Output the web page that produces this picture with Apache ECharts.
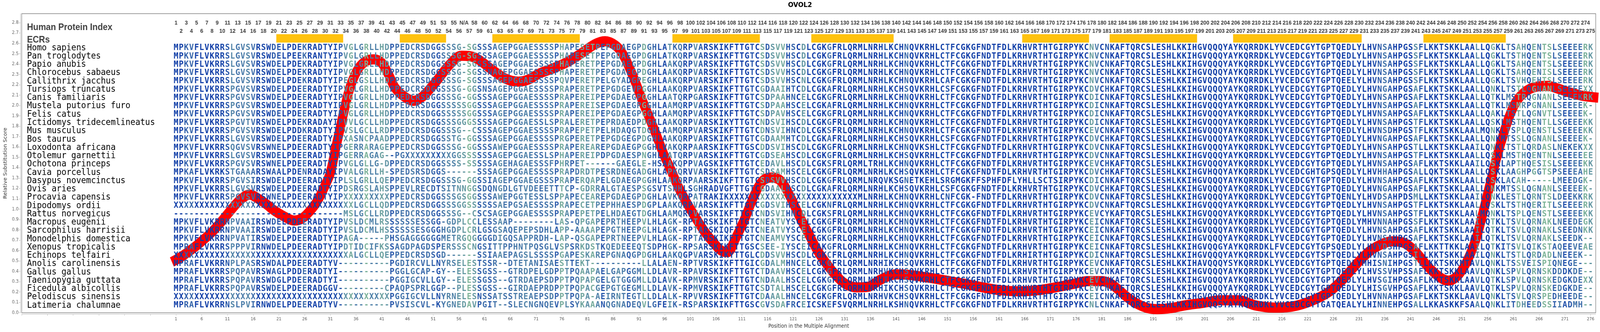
<!DOCTYPE html>
<html><head><meta charset="utf-8">
<script src="https://cdn.jsdelivr.net/npm/echarts@6/dist/echarts.min.js"></script>
<style>html,body{margin:0;padding:0;background:#fff;overflow:hidden}#c{width:4501px;height:850px;transform-origin:0 0}</style>
</head><body><div id="c"></div>
<script>
// ---------------- DATA ----------------
const chartTitle = 'OVOL2';
const species = ['Homo sapiens','Pan troglodytes','Papio anubis','Chlorocebus sabaeus','Callithrix jacchus','Tursiops truncatus','Canis familiaris','Mustela putorius furo','Felis catus','Ictidomys tridecemlineatus','Mus musculus','Bos taurus','Loxodonta africana','Otolemur garnettii','Ochotona princeps','Cavia porcellus','Dasypus novemcinctus','Ovis aries','Procavia capensis','Dipodomys ordii','Rattus norvegicus','Macropus eugenii','Sarcophilus harrisii','Monodelphis domestica','Xenopus tropicalis','Echinops telfairi','Anolis carolinensis','Gallus gallus','Taeniopygia guttata','Ficedula albicollis','Pelodiscus sinensis','Latimeria chalumnae'];

// alignment, four blocks of 69 columns (1-69, 70-138, 139-207, 208-276)
const alignmentBlocks = [
 ['MPKVFLVKRRSLGVSVRSWDELPDEKRADTYIPVGLGRLLHDPPEDCRSDGGSSSG-SGSSSAGEPGGA','ESSSSPHAPESETPEPGDAEGPDGHLATKQRPVARSKIKFTTGTCSDSVVHSCDLCGKGFRLQRMLNRH','LKCHNQVKRHLCTFCGKGFNDTFDLKRHVRTHTGIRPYKCNVCNKAFTQRCSLESHLKKIHGVQQQYAY','KQRRDKLYVCEDCGYTGPTQEDLYLHVNSAHPGSSFLKKTSKKLAALLQGKLTSAHQENTSLSEEEERK'],
 ['MPKVFLVKRRSLGVSVRSWDELPEEKRANTYIPVGLGRLLHDPPEDCRSDGGSSSG-SGSSSAGEPGGA','ESSSSPHAPESETPEPGDAEGPDGHLATKQRPVARSKIKFTTGTCSDSVVHSCDLCGKGFRLQRMLNRH','LKCHNQVKRHLCTFCGKGFNDTFDLKRHVRTHTGIRPYKCNVCNKAFTQRCSLESHLKKIHGVQQQYAY','KQRRDKLYVCEDCGYTGPTQEDLYLHVNSAHPGSSFLKKTSKKLAALLQGKLTSTHQENTSLSEEEERK'],
 ['MPKVFLVKRRSLGVSVRSWDELPDEKRADTYIPVGLGRLLHDPPEDCRSDGGSSSG-SGSSSAGEPGGA','ESSSSPHAPERETPEPGDAEGPDGHLAAKQRPVARSKIKFTTGTCSDSVVHSCDLCGKGFRLQRMLNRH','LKCHNQVKRHLCTFCGKGFNDTFDLKRHVRTHTGIRPYKCNVCNKAFTQRCSLESHLKKIHGVQQQYAY','KQRRDKLYVCEDCGYTGPTQEDLYLHVNSAHPGSSFLKKTSKKLAALLQGKLTSAHQENTSLSEEEERK'],
 ['MPKVFLVKRRSLGVSVRSWDELPDEKRADTYIPVGLGRLLHDPPEDCRSDGGSSSG-SGSSNAGEPGGA','ESSSSPHAPERETPEPGDAEGPDGHLAAKQRPVARSKIKFTTGTCSDSVVHSCDLCGKGFRLQRMLNRH','LKCHNQVKRHLCTFCGKGFNDTFDLKRHVRTHTGIRPYKCNVCNKAFTQRCSLESHLKKIHGVQQQYAY','KQRRDKLYVCEDCGYTGPTQEDLYLHVNSAHPGSSFLKKTSKKLAALLQGKLTSAHQENISLSEEEERK'],
 ['MPKVFLVKRRSLGVSVRSWDELPDEKRADTYIPEGLGSLLHDPPEDCRSDGGSSSG-SGSSSAGEPGGA','ESSSSPQVPERETPELGYADGPEGHLAAKQRPVARSKIKFTTGTCSDSVVHSCNLCGKGFRLQRMLNRH','LKCHNQVKRHLCAFCGKGFNDTFDLKRHVRTHTGIRPYKCNVCNKAFTQRCSLESHLKKIHGVQQQYAY','KQRRDKLYVCEDCGYTGPTQEELYLHVNSAHPGSSFLKKTSKKLAALLQGKLTSVHQEHTSLSEEEERK'],
 ['MPKVFLVKRRSPGVSVRSWDELPDEERADTYIPVGLGRLLHDPPEDCRSDGGSSSG-GGSNSAGEPGGA','ESSSSPRAPERETPEPGDGEVPGGHLAAKQRPVARSKIKFTTGTCGDAAIHTCDLCGKAFRLQRMLNRH','LKCHSQVKRHLCSFCGKGFNDTFDLKRHVRTHTGIRPYKCDVCHKAFTQRCSLESHLKKIHGVQQQYAY','KQRRDKLYVCEDCGYTGPTQEDLYLHVNGAHPGSAFLKKTSKKLAALLQNKLTSTLQGNANLSEEEEXX'],
 ['MPKVFLVKRRSPGVSVRSWDELPDEERADTYIPVGLGRLLHDPPEDCRSDGGSSSG-GGSSSAGEPGGA','ESSSSPRAPEREIPEPGDAEGPGGHLAATQRPGARSKIKFTTGTCSDPAAHNCELCGKGFRLQRMLNRH','LKCHNQVKRHLCTFCGKGFNDTFDLKRHVRTHTGIRPYKCDICNKAFTQRCSLESHLKKIHGVQQQYAY','KQRRDKLYVCEDCGYTGPTQEDLYLHVNSAHPGSAFLKKTSKKLAALLQTKLMSTRQGNANLSEEEKRK'],
 ['MPKVFLVKRRSPGVSVRSWDELPDEERADTYIPVGLGRLLHDPPEDCRSDGGSSSSSGGSSSAGEPGGA','ESSSSPRAPEREISEPGDAEGPGGHLAAMQRPVARSKIKFTTGTCSDPAAHSCELCGKAFRLQRMLNRH','LKCHNQVKRHLCTFCGKGFNDTFDLKRHVRTHTGIRPYKCDICNKAFTQRCSLESHLKKIHGVQQQYAY','KQRRDKLYVCEDCGYTGPTQEDLYLHVNSAHPGSAFLKKTSKKLAALLQTKLMSMRPGNANLSEEEEK-'],
 ['MPKVFLVKRRSPGVSVRSWDELPDEERADTYIPVGLGRLLHDPPEDCRSDGGSSSSSGGSSSAGEPGGA','ESSSSPRAPEREIPEPGDAEGPGGHLAAMQRPVARSKIKFTTGTCSDPAVHSCELCGKGFRLQRMLNRH','LKCHNQVKRHLCTFCGKGFNDTFDLKRHVRTHTGIRPYKCDICNKAFTQRCSLESHLKKIHGVQQQYAY','KQRRDKLYVCEDCGYTGPTQEDLYLHVNSAHPGSAFLKKTSKKLAALLQAKLTSTLQGNVTLSEEEEK-'],
 ['MPKVFLVKRRSPGVTVRSWDELPDEKRADAYIPVVLGCLLHDPPEDCRSDGGSSSGGGSSSSAGEPGGA','ESSLSPRALERETPEPRDAEDPDGHLAAKQRPVARSKIKYTTGTCNDSVIHSCDLCGKGFRLQRMLNRH','LKCHNQVKRHLCTFCGKGFNDTFDLKRHVRTHTGIRPYKCDICNKAFTQRCSLESHLKKIHGVQQQYAY','KQRRDKLYVCEDCGYTGPTQEDLYLHVNSAHPGSTFLKKTSKKLAALLQSKLMSTHQENTLLSGEEEKK'],
 ['MPKVFLVKRRSPGVSVRSWDELPDDKRADTYIPVSLGCLLRDPPEDCRSDGGSSSG--CSSSAGEPGGA','ESSSSPRAPEPETPELHDAQGTDGHLAAMQRPVARSKIKFTTGTCDNSVIHNCDLCGKSFRLQRMLNRH','LKCHNQVKRHLCTFCGKGFNDTFDLKRHVRTHTGIRPYKCEVCNKAFTQRCSLESHLKKIHGVQQQYAY','KQRRDKLYVCEDCGYTGPTQEDLYLHVNSDHPGSTFLKKTSKKLAALMQNKLTSPLQENSTLSEEEEKK'],
 ['MPKVFLVKRRSLGVSVRSWDELPDEERADTYIPXASNCPAADPPEDCRSDGGSSTG-GGSSSAGEPGGA','ESSSSPRGPERETPEPGDGEGPDGHLAAKQRPVARSKIKFTTGTCGDAAMHTCDLCGKAFRLQRMLNRH','LKCHSQVKRHLCSFCGKGFNDTFDLKRHVRTHTGIRPYKCDVCHKAFTQRCSLESHLKKIHGVQQQYAY','KQRRDKLYVCEDCGYTGPTQEDLYLHVNGAHPGSAFLKKTSKKLAALLQNKMTSSLQGNANLSEEEEK-'],
 ['MPKVFLVKRRSQGVSVRSWNELPDEERADTYIPGERRARAGEPPEDCRSDGGSSSG-GGSSSAWEPGGA','ESSSSPRAPEREAREPGDAEGPGGHLVAKQRPAARSKIKFTTGSCDDSVIHSCDLCGKGFRLQRMLNRH','LKCHNQVKSHLCTFCGKGFNDTFDLKRHVRTHTGIRPYKCDVCNKAFTQRCSLESHLKKIHGVQQQYAY','KQRRDKLYVCEDCGYTGPTQEDLYLHVNSAHPGSTLLKKTSKKLAAILQNKLTSTLQRDASLNEKEKXX'],
 ['MPKVFLVKRRSLGVSVRSWDELPDEERADTYIPGERRAGAG--PGXXXXXXXXXGGSSSSSSAGEPGGA','ESSLSPHAPEREIPDPGDAESPNGHLAATQRPVARSKIKFTTGTCGDSEAHSCDLCGKGFRLQRMLNRH','LKCHSQVKRHLCTFCGKGFNDTFDLKRHVRTHTGIRPYKCDVCNKAFTQRCSLESHLKKIHGVQQQYAY','KQRRDKLYVCEDCGYTGPTQEDLYLHVNSAHPGSTFLKKTSKKLAALLQSKLMSTHQENTNLSEEEEEE'],
 ['MPKVFLVKRRSPGVSVRSWNELPDEERADTYIPVGLGLLG-DPPEDCRSDGGSSSS-SSSSSAGEHAGA','ESSSFPHRPET------GAEGLE-HSAAKQPPVAGSKIKFTTGTCEDAVLHSCDLCGKSFRLQRMLTRH','LKCHNQVKRHLCTFCGKGFNDTFDLKRHVRTHTGIRPYKCEVCHKAFTQRCSLESHLKKIHGVQQQYAY','KQRRDKLYVCEDCGYTGPTQEDLYLHVNSAHPGSAFLKKTSKKLAAILQSKLAPTHQESISLSEEEEKK'],
 ['MPKAFLVKRKSTGAAARSWAALPDENRADAYIPVALGRLLH-SPEDSRSDGGS------SSSAGEPGGA','ESSSSPRAPDRDTPESRDNEGADGHLAPKQRVVARSKIKFTTGTCSDSAMHSCELCGKGFRLQRMLNRH','LKCHSQVKRHLCTFCGKGFNDTFDLKRHVRTHTGIRPYKCDVCHKAFTQRCSLESHLKKIHGVHQQYAY','KQRRDKLYVCEDCGHTGPSQEDLYLHVHHAHPGSALLQKTSKKLAALLQSKLAAGHPGGTSPSEEEAHE'],
 ['MPKVFLVKRRSPGVSIRSWDELPDEERADTYIPLSLGRLLQEPPEDCRSDGGSSSG-GGSSIAGEPGGA','EGSSSPRAPERQAPELGDAEGPGGHLAAKQRPAARSKIKFTTGTCSDSVVHSCDLCGKGFRLQRMLNRQ','VKSGNETKEHLSRGMGKFFSPHFDFLYHLLSCTSIRPYKCDICNKAFTQRCSLESHLKKIHGVQQQYAY','KQRRDKLYVCEDCGYTGPTQEDLYLHVNSAHPGSAFLKKTSKKLAALLQSKLACAH-----LMEEDGK-'],
 ['MPKVFLVKRRSLGVSVRSWDELPDEERADTYIPDSRGSLAHSPPEVLRECDTSITNNGGSDQNGDLGTV','DEEETTTCP-GDRRALGTAESPSGSVTSHHLSGHRADVGFTTGTCGDAALHSCDLCGKAFRLQRMLNRH','LKCHSQVKRHLCSFCGKGFNDTFDLKRHVRTHTGIRPYKCDVCHKAFTQRCSLESHLKKIHGVQQQYAY','KQRRDKLYVCEDCGYTGPTQEDLYLHVNGAHPGSAFLKKTSKKLAALLQNKMTSSLQGNANLSEEEEK-'],
 ['MPKVFLVKRRSPGVSVRSWNELPDEERADTYIPXXXXXXXXXPPEDCRSDGGSSSGSGGSSSAWEPGGT','ESSLSPPAPECEAREPGDAEGPDGHLAVKQRPATRAKIK'+'X'.repeat(25)+'MLNRH','LKCHNQVKRHLCNFCGK-FNDTFDLKRHVRTHTGIRPYKCDVCNKAFTQRCSLESHLKKIHGVQQQYAY','KQRRDKLYVCEDCGYTGPTQENLYLHVDSAHPDSMLLKKTSKKLAAILQNKLESTLQRNTSLDEEKKRK'],
 ['X'.repeat(35)+'LGCLLQDPPEDCRSDGGSSSGGSSSSSSAEPGSA','ESSSSPRAPECETPEPHHAESPDGPLAAKQRPVARSKIKFTTGTCGDSVIHSCELCGKNFRLQRMLNRH','LKCHNQVKRHLCTFCGKGFNDTFDLKRHVRTHTGIRPYKCDVCNKAFTQRCSLESHLKKIHGVQQQYAY','KQRRDKLYVCEDCGYTGPTQEDLYLHVNSAHPGSTFLKKTSKKLAALLQSKLTSTHQERITLSEEEERK'],
 ['-'.repeat(33)+'MSLGCLLRDPPEDCRSDGGSSSG--CSCSAGEPGGA','ESSSSPRAPEPETPELHDAEGTDGHLAAMQRPVARSKIKFTTGTCNDSVIHNCDLCGKSFRLQRMLNRH','LKCHNQVKRHLCTFCGKGFNDTFDLKRHVRTHTGIRPYKCEVCYKAFTQRCSLESHLKKIHGVQQQYAY','KQRRDKLYVCEDCGYTGPTQEDLYLHVNSAHPGSTFLKKTSKKLAALMQNKLTSPLQENSTLSEEEEKK'],
 ['MPKVFLVKRRNPVAAIRSWDELPDEERADTYIPVSLDCMLRSSSSSSESSGG-GDPLCCLESSAAP---','-----LAS-QPGAPEPRTHEEPVLHLAGK-RPTARSKIKFTTGTCNEATVYSCELCGKGFRLQRMLNRH','LKCHNQVKRHLCTFCGKGFNDTFDLKRHVRTHTGIRPYKCEICNKAFTQRCSLESHLKKIHGVQQQYAY','KQRRDKLYVCEDCGYTGPTQEDLYMHVNNAHPGSSFLKKTSKKLAAILQTKLTSVLQRNAKLNEEDEGK'],
 ['MPKVFLVKRRNPVAAIRSWDELPDEERADTYIPVSLDCMLHSSSSSSESGGGHGDPLCRLGSGSAQEPE','PSDHLAPP-AAAAPEPGTHEEPGLHLAGK-RPTARSKIQFTTGTCNEATVYSCELCGKGFRLQRMLNRH','LKCHNQVKRHLCTFCGKGFNDTFDLKRHVRTHTGIRPYKCEICNKAFTQRCSLESHLKKIHGVQQQYAY','KQRRDKLYVCEDCGYTGPTQEDLYLHVNSAHPGSAFLKKTSKKLAAILQTKLTSVLQRNAKLSEEDNKK'],
 ['MPKVFLVKRRNPVATIRSWDELPDEERADTYIPAGA-----PHSGAGGGGGGMETRGQGGGGDIGQSAP','PRDH-LAP-QSGAPEPRTNEEPVLHLAGK-RPTARSKIKFTTGTCNEAMVYSCELCGKGFRLQRMLNRH','LKCHNQVKRHLCTFCGKGFNDTFDLKRHVRTHTGIRPYKCEICNKAFTQRCSLESHLKKIHGVQQQYAY','KQRRDKLYVCEDCGYTGPTQEDLYLHVNSAHPGSAFLKKTSKKLAAILQTKLTSVLQRNAKLSEEDK--'],
 ['MPRAFLVKRRSPPPVIRNWDELPDEERADTYIPDTIDCIFKSSAGDPAGDSPERSSSCNGSITTPPHNT','PQSGLVSPSRKDSTKQEDEEEQTSDPHGK-RPSARSKIKFTTGSCSEE-IYSCEICAKGFRLQRMLNRH','LKCHNQVKRHLCTFCGKGFNDTFDLKRHVRTHTGIRPYKCEICNKAFTQRCSLESHLKKIHGVQQGYAY','KQRRDKLFVCEDCGYTGPSQEDLYLHVYDSHPGSAFLKKTTKKLAAILQTKITSVLQIKSTAQEEVEAE'],
 ['X'.repeat(34)+'ALGCLLQEPPEDCRSDSGD------SSIAAEPAGS','LSSSSPGAPESKAREPGNAQGPDGHLAAKQGPVARSKIKYTTGLCDDSVVHSCDLCGKCFRLQRMLNRH','LKCHNQVKRHLCTFCGKGFNDTFDLKRHIRTHTGIRPYKCDICNKAFTQRCSLESHLKKIHGVQQQYAY','KQRRDKLYVCEDCGYTSPTQEDLYLHVNSAHPGSILLKKTSKKLAAILQNKLTSTLQRDADLNEEEK--'],
 ['MPRAFLVKRRNPLPASRSWDALPDEERADTYV'+'----------'+'PGDIRCVLLNYRSELESTSSR--DTET','ANISAESTTEKT----------LLALAEN-RPTVRSKIKFTTGICGDALMHNCELCGKGFRLQRMLNRH','IKCHSQVKRHLCTFCGKGFNDTFDLKRHVRTHTGIRPYKCEVCNKAFTQRCSLESHLKKIHAVQQQYSY','KQRRDKLYVCEDCGYTGPTQEDLYMHISNIHPGSTLLKKTSKKMTAVLQNKLTSSVEISPIQNEGE---'],
 ['MPRAFLVKRRSPQPAVRSWAGLPDDERADTYI'+'----------'+'PGGLGCAP-GY--ELESSGSS--GTRD','PELGDPPTPQAAPAELGAPGGMLLDLAVR-RPAVRSKIKFTTGTCTDAAVHSCELCGKGFRLQRMLNRH','VKCHSQVKRHLCTFCGKGFNDTFDLKRHVRTHTGIRPYKCEVCNKAFTQRCSLESHLKKIHGVQQQYAY','KQRRDKLYVCEDCGYTGPTQEDLYLHVSSVHPSSAFLKKTSKKLAAVLQNKLSPVLQRNSKDDDKDE--'],
 ['MPRAFLVKRRSPQPAVRSWDGLPDEERADTYI'+'----------'+'PGGIGCVLLGY--ELESSGSS--GTRD','AEPSDPPTPQPAPGELGTGGGMLLDLAVK-RPMVRSKIKFTTGTCNDAALHSCELCGKGFRLQRMLNRH','IKCHSQVKRHLCTFCGKGFNDTFDLKRHVRTHTGIRPYKCEVCNKAFTQRCSLESHLKKIHGVQQQYAY','KQRRDKLYVCEDCGYTGPTQEDLYLHVSGIHPGSAFLKKTSKKLAAVLQTKLSPVLQRNSKEDGKDEXX'],
 ['MPRAFLVKRRSPQPAVRSWDELPDEERADGGV'+'---------'+'CPAQPSPRLGGP--PLESSGSS--GIRD','AEPRDPPTPQPACGEPGTGEGMLLDLAVK-RPMVRSKIKFTTGTCSDTALHSCELCGKGFRLQRMLNRH','IKCHSQVKRHLCTFCGKGFNDTFDLKRHVRTHTGIRPYKCEVCNKAFTQRCSLESHLKKIHGVQQQYAY','KQRRDKLYVCEDCGYTGPTQEDLYLHISGVHPGSAFLKKTSKKLAAVLQTKLSPVLQRNSKEDGKDE--'],
 ['X'.repeat(42)+'PGGIGCVLLNYRNELESNSSATSSTRE','AEPSDPPTPQPA-AEIRNTEGTLLDLALK-RPVVRSKIKFTTGTCDAAALHNCELCGKGFRLQRMLNRH','VKCHSQVKRHLCTFCGKGFNDTFDLKRHIRTHTGIRPYKCEICNKAFTQRCSLESHLKKIHGVQQQYAY','KQRRDKLYVCEDCGYTGPTQEDLYLHVNNAHPGSAFLKKTSKKLAAVLQNKLTSVLQRSPEDHEEDE--'],
 ['MPRAFLVKRRNSLPVIRNWDELPDEERADTYV'+'----------'+'PVSISCVL-KYGNEDAVPGIT--SLEC','NGNQEVPLSYKAAANQGNADEQVLGFEIK-RSPARSKIKFTTGSCGVSDAFRCEICSKEFSVQRMLNRH','LKSHNQVKRHLCTFCGKGFNDTFDLKRHVRTHTGIRPYKCNLCNKAFTQRCSLESHLKKIHGVQQSYAY','KQRRDKLYVCEDCGYTGATQEALYLHINNEHPGSALLKKASKKFSAALQNKLITDHEEDSSIIADMH--']
];

// evolutionarily conserved regions (alignment positions, inclusive)
const ecrRegions = [[21,33],[45,53],[63,79],[98,114],[125,140],[166,178],[183,199],[207,231],[244,259]];

// relative substitution score curve (alignment position, score)
const curvePos = [0.2,2,4,6,8,10,12,13.5,15.3,17,18.5,20,22,24,25.5,27,28.5,30,31,32,33,34,35,36.5,38,39.5,41,42.3,43.6,45.4,47.2,48.9,50.7,52.5,54.3,56.5,59.2,62.3,65,67.5,69.5,71.7,74.4,77.1,79.7,82.4,84.4,86.4,87.8,89.1,90.5,91.8,93.2,94.5,95.8,97.2,98.5,100.3,102.1,103.8,105.6,107,108.2,109.7,111.5,113.3,115,116.8,118.6,120.4,122.2,123.9,125.7,127.5,129.3,131.1,133.3,135.5,138,140.9,143.5,147.1,150.7,154.2,157.8,161.3,164.9,168.5,172,175.6,178.3,180.9,182.7,184.5,186.3,188.1,189.9,191.7,194.4,197,200.6,204.2,207.5,210.9,214.4,218,221.5,225.1,227.8,230.5,233.2,235.8,237.6,239.9,242.1,244.3,246.5,248.3,250.1,251.9,253.7,255,256.4,257.7,259.1,260.4,261.7,263.5,265.3,267.6,269.8,272,274.3,277.5];
const curveScore = [0.49,0.54,0.61,0.69,0.78,0.89,1.01,1.09,1.14,1.10,1.05,0.99,0.93,0.89,0.91,0.98,1.08,1.23,1.35,1.58,1.80,2.02,2.20,2.36,2.43,2.445,2.41,2.30,2.17,2.085,2.045,2.085,2.18,2.29,2.40,2.48,2.46,2.35,2.26,2.23,2.25,2.31,2.36,2.42,2.50,2.59,2.62,2.58,2.50,2.37,2.20,2.03,1.86,1.70,1.53,1.38,1.23,1.06,0.91,0.78,0.67,0.60,0.585,0.71,0.90,1.12,1.27,1.305,1.27,1.12,0.93,0.77,0.60,0.47,0.36,0.28,0.245,0.25,0.32,0.37,0.365,0.34,0.31,0.28,0.245,0.217,0.207,0.217,0.245,0.28,0.305,0.305,0.28,0.21,0.135,0.08,0.045,0.035,0.045,0.07,0.095,0.12,0.12,0.07,0.05,0.06,0.11,0.20,0.32,0.47,0.60,0.67,0.69,0.67,0.58,0.45,0.35,0.31,0.355,0.49,0.71,0.95,1.23,1.49,1.73,1.92,2.05,2.14,2.18,2.19,2.16,2.125,2.095,2.075];

const trackLabels = ['Human Protein Index', 'ECRs'];

// ---------------- DERIVED ----------------
const sequences = alignmentBlocks.map(b => b.map(s => s.padEnd(69, '-').slice(0, 69)).join(''));
const nCols = sequences[0].length;
const humanIndex = [];
{ let k = 0; for (let c = 0; c < nCols; c++) { if (sequences[0][c] === '-') humanIndex.push('N/A'); else { k++; humanIndex.push(String(k)); } } }

const colorStops = [[0.15,[150,202,146]],[0.28,[132,186,150]],[0.42,[108,162,158]],[0.56,[84,136,166]],[0.7,[56,104,170]],[0.85,[30,78,170]],[1.0,[10,56,166]]];
function consColor(v) {
  if (v <= colorStops[0][0]) return 'rgb(' + colorStops[0][1].join(',') + ')';
  for (let i = 1; i < colorStops.length; i++) {
    if (v <= colorStops[i][0]) {
      const a = colorStops[i-1], b = colorStops[i];
      const t = (v - a[0]) / (b[0] - a[0]);
      const c = a[1].map((x, j) => Math.round(x + (b[1][j] - x) * t));
      return 'rgb(' + c.join(',') + ')';
    }
  }
  return 'rgb(' + colorStops[colorStops.length-1][1].join(',') + ')';
}
const colColors = [];
for (let c = 0; c < nCols; c++) {
  const cnt = {}; let n = 0;
  sequences.forEach(s => { const ch = s[c]; if (ch !== 'X') { cnt[ch] = (cnt[ch] || 0) + 1; n++; } });
  let m = 0; Object.keys(cnt).forEach(k => { if (cnt[k] > m) m = cnt[k]; });
  colColors.push(consColor(n ? m / n : 1));
}

// ---------------- CHART ----------------
// the viewport may be narrower than the 4501px design width; fit the chart horizontally
const dom = document.getElementById('c');
const vw = window.innerWidth || 4501;
if (vw < 4501) dom.style.transform = 'scaleX(' + (vw / 4501) + ')';

const chart = echarts.init(dom, null, {renderer: 'canvas'});
const SEQ_FONT = 'bold 22px "DejaVu Sans Mono", "Liberation Mono", monospace';
const NAME_FONT = '23px "DejaVu Sans Mono", "Liberation Mono", monospace';
const IDX_FONT = 'bold 15px "Liberation Sans", Arial, sans-serif';
const TRACK_FONT = 'bold 24px "Liberation Sans", Arial, sans-serif';

function txt(x, y, text, fill, font, align) {
  return { type: 'text', x: x, y: y, silent: true,
    style: { text: text, fill: fill, font: font, align: align || 'center', verticalAlign: 'middle', textAlign: align || 'center', textVerticalAlign: 'middle' } };
}

const option = {
  animation: false,
  backgroundColor: '#ffffff',
  title: { text: chartTitle, left: 'center', top: 4, padding: 0,
    textStyle: { fontFamily: 'DejaVu Sans', fontWeight: 'bold', fontSize: 18, color: '#000' } },
  grid: { left: 61, right: 12, top: 35, bottom: 49.3, show: true, borderColor: '#808080', borderWidth: 1.4, backgroundColor: 'transparent' },
  xAxis: [{
    type: 'value', min: -30, max: 276, interval: 5, offset: 3.5, position: 'bottom',
    name: 'Position in the Multiple Alignment', nameLocation: 'middle', nameGap: 24,
    nameTextStyle: { fontFamily: 'DejaVu Sans', fontSize: 13.5, color: '#333' },
    axisLine: { show: true, onZero: false, lineStyle: { color: '#b8b8b8', width: 1 } },
    axisTick: { show: true, length: 4, lineStyle: { color: '#b8b8b8' } },
    axisLabel: { margin: 7, fontFamily: 'DejaVu Sans', fontSize: 11, color: '#555', showMaxLabel: false,
      formatter: v => (v >= 0 ? String(Math.round(v) + 1) : '') },
    splitLine: { show: false }
  }],
  yAxis: [{
    type: 'value', min: 0, max: 2.886, interval: 0.1, offset: 3.5,
    name: 'Relative Substitution Score', nameLocation: 'middle', nameGap: 30,
    nameTextStyle: { fontFamily: 'DejaVu Sans', fontSize: 13.5, color: '#333' },
    axisLine: { show: true, onZero: false, lineStyle: { color: '#b8b8b8', width: 1 } },
    axisTick: { show: true, length: 4, lineStyle: { color: '#b8b8b8' } },
    axisLabel: { margin: 5, fontFamily: 'DejaVu Sans', fontSize: 12, color: '#666', showMaxLabel: false,
      formatter: v => v.toFixed(1) },
    splitLine: { show: false }
  }, {
    type: 'value', min: -4.125, max: 31.891, inverse: true, show: false
  }],
  series: [
    { // substitution score curve
      type: 'line', xAxisIndex: 0, yAxisIndex: 0, z: 2, silent: true,
      data: curvePos.map((p, i) => [p - 1, curveScore[i]]),
      smooth: 0.35, showSymbol: false, symbol: 'none',
      lineStyle: { color: '#ff0000', width: 26, cap: 'butt', join: 'round' }
    },
    { // ECR bars
      type: 'custom', xAxisIndex: 0, yAxisIndex: 1, z: 4, silent: true,
      data: ecrRegions.map(r => [r[0] - 1, r[1] - 1]),
      encode: { x: [0, 1] },
      renderItem: (params, api) => {
        const a = api.coord([api.value(0) - 0.5, -1.65]);
        const b = api.coord([api.value(1) + 0.5, -0.65]);
        return { type: 'rect', shape: { x: a[0], y: a[1], width: b[0] - a[0], height: b[1] - a[1] }, style: { fill: '#ffc20e' } };
      }
    },
    { // human protein index
      type: 'custom', xAxisIndex: 0, yAxisIndex: 1, z: 4, silent: true,
      data: humanIndex.map((lab, c) => [c, c % 2 === 0 ? -3 : -2]),
      encode: { x: 0, y: 1 },
      renderItem: (params, api) => {
        const p = api.coord([api.value(0), api.value(1)]);
        return txt(p[0], p[1], humanIndex[params.dataIndex], '#3a3a3a', IDX_FONT);
      }
    },
    { // track labels
      type: 'custom', xAxisIndex: 0, yAxisIndex: 1, z: 4, silent: true,
      data: [[0, -2.46], [0, -0.95]],
      encode: { x: 0, y: 1 },
      renderItem: (params, api) => {
        const p = api.coord([0, api.value(1)]);
        return txt(params.coordSys.x + 15, p[1], trackLabels[params.dataIndex], '#404040', TRACK_FONT, 'left');
      }
    },
    { // species names
      type: 'custom', xAxisIndex: 0, yAxisIndex: 1, z: 5, silent: true,
      data: species.map((s, r) => [0, r]),
      encode: { x: 0, y: 1 },
      renderItem: (params, api) => {
        const p = api.coord([0, api.value(1)]);
        return txt(params.coordSys.x + 15, p[1], species[params.dataIndex], '#000', NAME_FONT, 'left');
      }
    },
    { // alignment letters
      type: 'custom', xAxisIndex: 0, yAxisIndex: 1, z: 5, silent: true,
      data: sequences.map((s, r) => [0, r]),
      encode: { x: 0, y: 1 },
      renderItem: (params, api) => {
        const r = api.value(1);
        const seq = sequences[params.dataIndex];
        const children = [];
        for (let c = 0; c < seq.length; c++) {
          const p = api.coord([c, r]);
          children.push(txt(p[0], p[1], seq[c], colColors[c], SEQ_FONT));
        }
        return { type: 'group', children: children };
      }
    }
  ]
};
chart.setOption(option);
</script>
</body></html>
